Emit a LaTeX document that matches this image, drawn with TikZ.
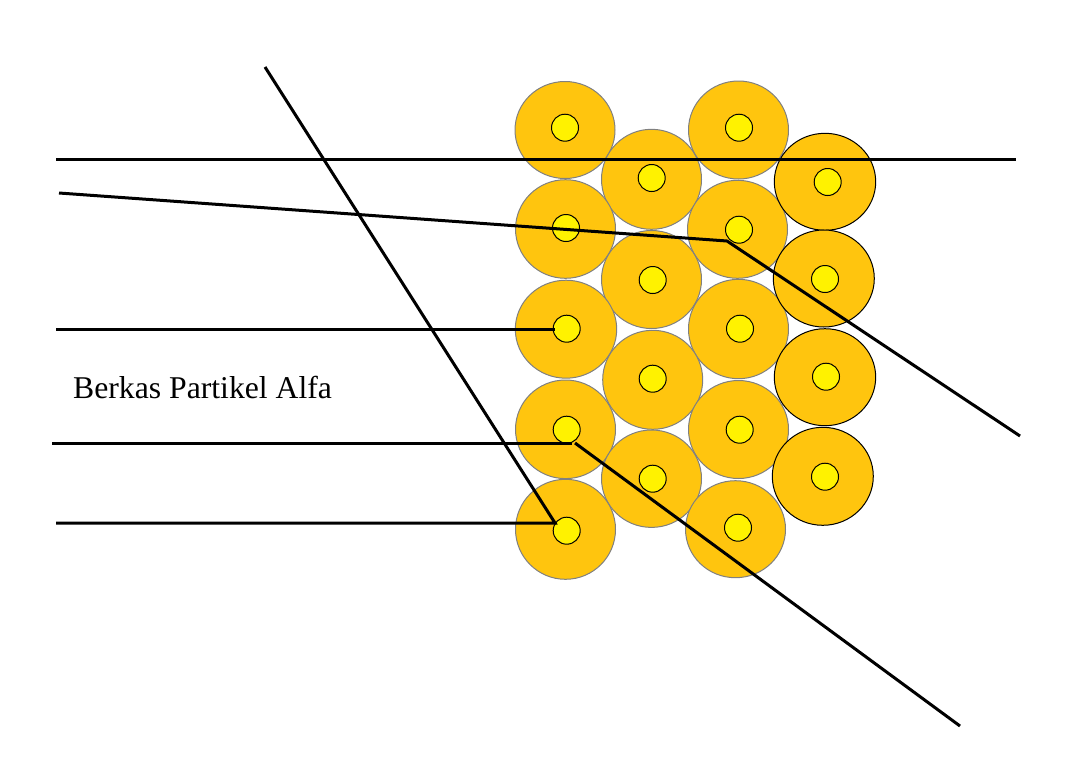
\documentclass[tikz,border=0pt]{standalone}
\usepackage{fontspec}
\setmainfont{Liberation Serif}
\definecolor{kulit}{HTML}{FFC50E}
\definecolor{inti}{HTML}{FFF200}
\tikzset{
  atom/.style={fill=kulit,draw=gray,line width=1pt},
  atom hitam/.style={fill=kulit,draw=black,line width=1pt},
  nucleus/.style={fill=inti,draw=black,line width=1pt},
  sinar/.style={draw=black,line width=3pt},
  define coordinates/.style={
    execute at begin picture={
      \coordinate (A1) at (56,159);
      \coordinate (A2) at (1016,159);
      \coordinate (B1) at (59,193);
      \coordinate (B2) at (727,241);
      \coordinate (B3) at (1020,436);
      \coordinate (C1) at (56,329);
      \coordinate (C2) at (555,329);
      \coordinate (D1) at (52,443);
      \coordinate (D2) at (572,443);
      \coordinate (D3) at (575,443);
      \coordinate (D4) at (960,726);
      \coordinate (E1) at (56,523);
      \coordinate (E2) at (555,523);
      \coordinate (E3) at (265,67);
   }
 }
}

\begin{document}
\begin{tikzpicture}[x=1pt,y=-1pt,define coordinates]
\useasboundingbox (0,0) rectangle (1082,782);

% Draw the atoms with a gray rim
\foreach \cx/\cy/\rx/\ry/\nx/\ny in {
  565/130/50/48.5/565/127.7,
  651.5/179.3/50/50/651.7/178,
  738.5/130/50/49/739/127.7,
  565.5/229/50/49.3/566/228,
  737.5/229.3/50/49/739/229.7,
  651.5/279.5/50/49/652.7/280,
  566/329.2/50.7/49/566.7/328.7,
  738.5/329/50/49.7/740/328.7,
  652.7/379.8/50/49.5/652.7/378.7,
  565.5/429.3/50/49.3/566.7/429.7,
  738.5/429.5/50/49/739.7/429.7,
  651.5/478.7/50/48.7/652.7/478.7,
  565.5/529.3/50/50/566.7/530.7,
  735.5/529.2/50/48.5/738/527.7}{
  \draw[atom] (\cx,\cy) ellipse (\rx pt and \ry pt);
  \draw[nucleus] (\nx,\ny) circle (13.5pt);
}

% Draw the atoms with a black rim
\foreach \cx/\cy/\rx/\ry/\nx/\ny in {
  825/181.8/50.7/48.5/827.7/182,
  823.8/278.5/50.5/48.5/825/279,
  825/377.2/50.7/48.5/826/376.7,
  822.8/476.3/50.5/49/825/476.7}{
  \draw[atom hitam] (\cx,\cy) ellipse (\rx pt and \ry pt);
  \draw[nucleus] (\nx,\ny) circle (13.5pt);
}

% Draw the beams
\draw[sinar] (A1) -- (A2);
\draw[sinar] (B1) -- (B2) -- (B3);
\draw[sinar] (C1) -- (C2);
\draw[sinar] (D1) -- (D2);
\draw[sinar] (D3) -- (D4);
\draw[sinar] (E1) -- (E2) -- (E3);

\node (label) [anchor=base west,inner sep=0pt,font=\fontsize{31.7}{34}\selectfont] at (73,398) {Berkas Partikel Alfa};

\end{tikzpicture}
\end{document}
